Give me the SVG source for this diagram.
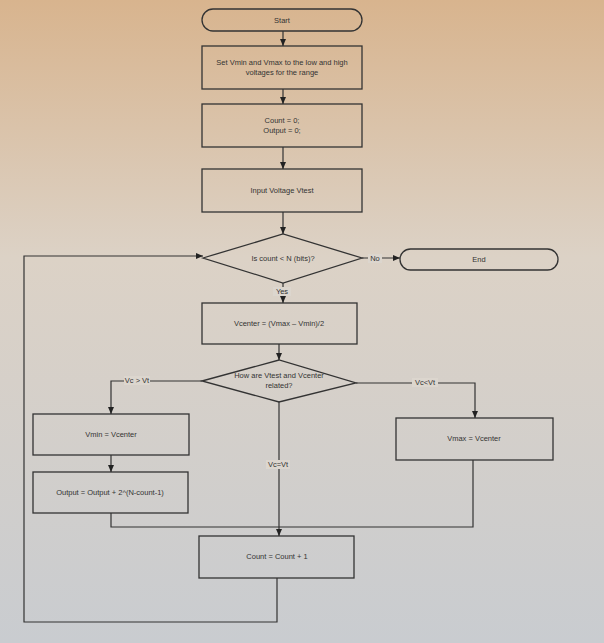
<svg xmlns="http://www.w3.org/2000/svg" width="604" height="643" viewBox="0 0 604 643">
<defs>
<linearGradient id="bg" x1="0" y1="0" x2="0" y2="1">
<stop offset="0" stop-color="#d8b48e"/><stop offset="0.4" stop-color="#dcd2c6"/><stop offset="1" stop-color="#c9ccd0"/>
</linearGradient>
<marker id="ar" markerWidth="8" markerHeight="8" refX="7" refY="4" orient="auto" markerUnits="userSpaceOnUse"><path d="M0,1 L7,4 L0,7 Z" fill="#222"/></marker>
<style>
.s{fill:none;stroke:#333;stroke-width:1.3}
.c{fill:none;stroke:#333;stroke-width:1.2}
text{font-family:"Liberation Sans",Arial,sans-serif;font-size:7.5px;fill:#333;text-anchor:middle}
.l{fill:#dcd6ce}
</style>
</defs>
<rect width="604" height="643" fill="url(#bg)"/>
<g id="start"><rect class="s" x="202" y="9" width="160" height="22" rx="11"/><text x="282" y="23">Start</text></g>
<g id="setv"><rect class="s" x="202" y="46" width="160" height="43"/><text x="282" y="65">Set Vmin and Vmax to the low and high</text><text x="282" y="75">voltages for the range</text></g>
<g id="init"><rect class="s" x="202" y="104" width="160" height="43"/><text x="282" y="123">Count = 0;</text><text x="282" y="133">Output = 0;</text></g>
<g id="input"><rect class="s" x="202" y="169" width="160" height="43"/><text x="282" y="193">Input Voltage Vtest</text></g>
<g id="dec1"><polygon class="s" points="203,258 283,234 362,258 283,283"/><text x="283" y="261">Is count &lt; N (bits)?</text></g>
<g id="end"><rect class="s" x="400" y="249" width="158" height="21" rx="10.5"/><text x="479" y="262">End</text></g>
<g id="vc"><rect class="s" x="202" y="303" width="155" height="41"/><text x="279" y="326">Vcenter = (Vmax – Vmin)/2</text></g>
<g id="dec2"><polygon class="s" points="202,381 279,360 356,383 279,402"/><text x="279" y="378">How are Vtest and Vcenter</text><text x="279" y="388">related?</text></g>
<g id="vmin"><rect class="s" x="33" y="414" width="156" height="41"/><text x="111" y="437">Vmin = Vcenter</text></g>
<g id="out"><rect class="s" x="33" y="472" width="155" height="41"/><text x="110" y="495">Output = Output + 2^(N-count-1)</text></g>
<g id="vmax"><rect class="s" x="396" y="418" width="157" height="42"/><text x="474" y="441">Vmax = Vcenter</text></g>
<g id="cnt"><rect class="s" x="199" y="536" width="155" height="42"/><text x="277" y="559">Count = Count + 1</text></g>
<g id="connectors">
<path class="c" d="M283,31 V46" marker-end="url(#ar)"/>
<path class="c" d="M283,89 V104" marker-end="url(#ar)"/>
<path class="c" d="M283,147 V169" marker-end="url(#ar)"/>
<path class="c" d="M283,212 V234" marker-end="url(#ar)"/>
<path class="c" d="M362,258 H400" marker-end="url(#ar)"/>
<rect class="l" x="368" y="254" width="14" height="9"/><text x="375" y="261">No</text>
<path class="c" d="M283,283 V303" marker-end="url(#ar)"/>
<rect class="l" x="273" y="287" width="18" height="9"/><text x="282" y="294">Yes</text>
<path class="c" d="M279,344 V360" marker-end="url(#ar)"/>
<path class="c" d="M202,381 H111 V414" marker-end="url(#ar)"/>
<rect class="l" x="124" y="376" width="26" height="9"/><text x="137" y="383">Vc &gt; Vt</text>
<path class="c" d="M356,383 H475 V418" marker-end="url(#ar)"/>
<rect class="l" x="412" y="378" width="26" height="9"/><text x="425" y="385">Vc&lt;Vt</text>
<path class="c" d="M111,455 V472" marker-end="url(#ar)"/>
<path class="c" d="M279,402 V536" marker-end="url(#ar)"/>
<rect class="l" x="266" y="460" width="24" height="9"/><text x="278" y="467">Vc=Vt</text>
<path class="c" d="M111,513 V527 H473 V460"/>
<path class="c" d="M277,578 V622 H24 V256 H203" marker-end="url(#ar)"/>
</g>
</svg>
